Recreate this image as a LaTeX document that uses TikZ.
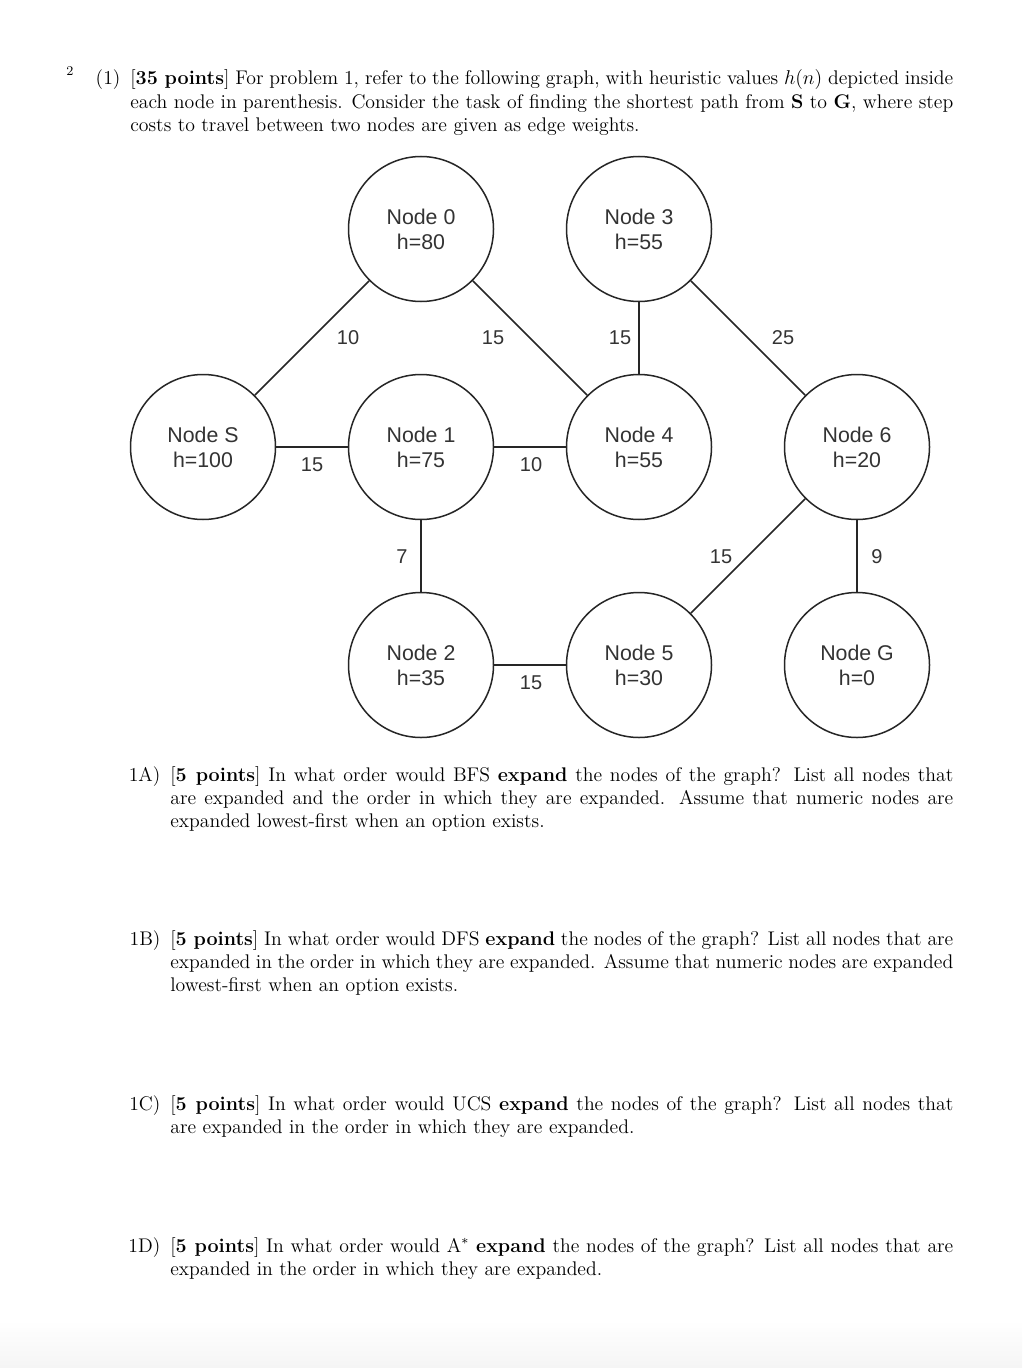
\documentclass[tikz,border=0pt]{standalone}
\usepackage{fontspec}
\newfontfamily\graphfont{Liberation Sans}
\begin{document}
\begin{tikzpicture}[x=0.6pt,y=-0.6pt,
  gnode/.style={circle, draw=black!85, line width=0.9pt, minimum size=87pt, inner sep=0pt, align=center, font=\graphfont\fontsize{12.8}{15}\selectfont, text=black!80},
  edge/.style={draw=black!85, line width=0.9pt},
  elabel/.style={font=\graphfont\fontsize{12}{14}\selectfont, text=black!80, inner sep=0pt},
  para/.style={anchor=base west, inner sep=0pt, align=justify, font=\fontsize{11.85}{14.04}\selectfont}
]
\useasboundingbox (0,0) rectangle (1022,1368);
\fill[white] (0,0) rectangle (1022,1368);
\shade[top color=white, bottom color=black!4] (0,1320) rectangle (1022,1368);

% page number
\node[font=\fontsize{8}{9}\selectfont, inner sep=0pt] (pg) at (70,71) {2};

% paragraph
\node[para, text width=493.8pt] (p1) at (130,85) {\llap{(1)\hspace{0.5em}}[\textbf{35 points}] For problem 1, refer to the following graph, with heuristic values $h(n)$ depicted inside each node in parenthesis. Consider the task of finding the shortest path from \textbf{S} to \textbf{G}, where step costs to travel between two nodes are given as edge weights.};

% graph nodes
\node[gnode] (n0) at (421,229) {Node 0\\h=80};
\node[gnode] (n3) at (639,229) {Node 3\\h=55};
\node[gnode] (nS) at (203,447) {Node S\\h=100};
\node[gnode] (n1) at (421,447) {Node 1\\h=75};
\node[gnode] (n4) at (639,447) {Node 4\\h=55};
\node[gnode] (n6) at (857,447) {Node 6\\h=20};
\node[gnode] (n2) at (421,665) {Node 2\\h=35};
\node[gnode] (n5) at (639,665) {Node 5\\h=30};
\node[gnode] (nG) at (857,665) {Node G\\h=0};

% edges
\draw[edge] (nS) -- (n0);
\draw[edge] (n0) -- (n4);
\draw[edge] (n3) -- (n4);
\draw[edge] (n3) -- (n6);
\draw[edge] (nS) -- (n1);
\draw[edge] (n1) -- (n4);
\draw[edge] (n1) -- (n2);
\draw[edge] (n6) -- (n5);
\draw[edge] (n6) -- (nG);
\draw[edge] (n2) -- (n5);

% edge labels
\node[elabel] (lS0) at (348,338) {10};
\node[elabel] (l04) at (493,338) {15};
\node[elabel] (l34) at (620,338) {15};
\node[elabel] (l36) at (783,338) {25};
\node[elabel] (lS1) at (312,465) {15};
\node[elabel] (l14) at (531,465) {10};
\node[elabel] (l12) at (402,557) {7};
\node[elabel] (l65) at (721,557) {15};
\node[elabel] (l6G) at (877,557) {9};
\node[elabel] (l25) at (531,683) {15};

% questions
\node[para, text width=469.8pt] (qA) at (170,781) {\llap{1A)\hspace{0.5em}}[\textbf{5 points}] In what order would BFS \textbf{expand} the nodes of the graph? List all nodes that are expanded and the order in which they are expanded. Assume that numeric nodes are expanded lowest-first when an option exists.};
\node[para, text width=469.8pt] (qB) at (170,945) {\llap{1B)\hspace{0.5em}}[\textbf{5 points}] In what order would DFS \textbf{expand} the nodes of the graph? List all nodes that are expanded in the order in which they are expanded. Assume that numeric nodes are expanded lowest-first when an option exists.};
\node[para, text width=469.8pt] (qC) at (170,1110) {\llap{1C)\hspace{0.5em}}[\textbf{5 points}] In what order would UCS \textbf{expand} the nodes of the graph? List all nodes that\linebreak are expanded in the order in which they are expanded.};
\node[para, text width=469.8pt] (qD) at (170,1252) {\llap{1D)\hspace{0.5em}}[\textbf{5 points}] In what order would A$^*$ \textbf{expand} the nodes of the graph? List all nodes that are expanded in the order in which they are expanded.};
\end{tikzpicture}
\end{document}
